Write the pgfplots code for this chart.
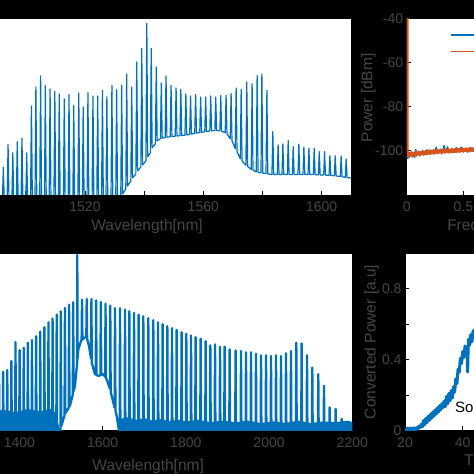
\documentclass[border=0pt]{standalone}
\usepackage{pgfplots}
\pgfplotsset{compat=1.18}
\usepackage{fontspec}
\setmainfont{Liberation Sans}
\definecolor{c1}{RGB}{0,114,189}
\definecolor{c2}{RGB}{217,83,25}
\definecolor{labgray}{RGB}{70,70,70}
\newcommand{\tfont}{\fontsize{14}{16}\selectfont}
\newcommand{\lfont}{\fontsize{15.5}{18}\selectfont}
\pgfplotsset{
  panel/.style={
    scale only axis,
    anchor=south west,
    axis background/.style={fill=white},
    axis line style={black, line width=0.8pt},
    tick align=inside,
    xtick pos=left, ytick pos=left,
    major tick length=4pt,
    tick style={black, line width=0.8pt},
    ticklabel style={font=\tfont, text=labgray},
    xticklabel style={yshift=-3.5pt},
    xlabel style={font=\lfont, text=labgray},
    ylabel style={font=\lfont, text=labgray},
    /pgf/number format/assume math mode=true,
    every axis plot/.append style={line join=round},
  },
}
\begin{document}
\begin{tikzpicture}
\useasboundingbox (0,0) rectangle (474pt,474pt);
\clip (0,0) rectangle (474pt,474pt);
\fill[black] (0,0) rectangle (474pt,474pt);

% ---------------- top left ----------------
\begin{axis}[panel, at={(-57pt,279pt)}, width=408.2pt, height=176.7pt,
  xmin=1472, xmax=1610, ymin=-88, ymax=0,
  xtick={1480,1500,...,1600}, xticklabels={1480,,1520,,1560,,1600},
  ytick=\empty, xlabel={Wavelength[nm]}]
\addplot[c1, line width=1.2pt] coordinates {
(1472,-90)
(1492.1,-90)(1492.4,-74.2)(1492.7,-90)
(1493.7,-90)(1494.0,-62.9)(1494.3,-90)
(1495.3,-90)(1495.6,-67.0)(1495.9,-90)
(1496.8,-90)(1497.1,-61.5)(1497.4,-90)
(1498.4,-90)(1498.7,-59.7)(1499.0,-90)
(1500.0,-90)(1500.3,-67.0)(1500.6,-90)
(1501.6,-90)(1501.9,-43.7)(1502.2,-90)
(1503.1,-90)(1503.4,-34.2)(1503.7,-90)
(1504.7,-90)(1505.0,-28.7)(1505.3,-90)
(1506.3,-90)(1506.6,-33.5)(1506.9,-90)
(1507.9,-90)(1508.2,-35.2)(1508.5,-90)
(1509.5,-90)(1509.8,-36.4)(1510.1,-90)
(1511.0,-90)(1511.3,-37.7)(1511.6,-90)
(1512.7,-90)(1513.0,-40.2)(1513.3,-90)
(1514.3,-90)(1514.6,-37.9)(1514.9,-90)
(1515.9,-90)(1516.2,-43.4)(1516.5,-90)
(1517.6,-90)(1517.9,-37.2)(1518.2,-90)
(1519.1,-90)(1519.4,-44.2)(1519.7,-90)
(1520.7,-90)(1521.0,-37.0)(1521.3,-90)
(1522.4,-90)(1522.7,-38.7)(1523.0,-90)
(1524.0,-90)(1524.3,-38.7)(1524.6,-90)
(1525.6,-90)(1525.9,-35.9)(1526.2,-90)
(1527.1,-90)(1527.4,-39.0)(1527.7,-90)
(1528.8,-90)(1529.1,-33.4)(1529.4,-90)
(1530.4,-90)(1530.7,-35.5)(1531.0,-89.5)
(1532.1,-88.5)(1532.4,-33.4)(1532.7,-87.5)
(1533.8,-85)(1534.1,-27.7)(1534.4,-83.5)
(1535.5,-81)(1535.8,-34.2)(1536.1,-79.5)
(1537.2,-77.5)(1537.5,-21.7)(1537.8,-76)
(1538.9,-74)(1539.2,-15.0)(1539.5,-73)
(1540.6,-71)(1540.9,-2.5)(1541.2,-69)
(1542.1,-67)(1542.4,-15.0)(1542.7,-64.5)
(1543.8,-62.5)(1544.1,-24.2)(1544.4,-61)
(1545.5,-60)(1545.8,-32.2)(1546.1,-59.7)
(1547.1,-59.4)(1547.4,-28.7)(1547.7,-59.2)
(1548.8,-59)(1549.1,-33.4)(1549.4,-58.9)
(1550.5,-58.7)(1550.8,-34.7)(1551.1,-58.6)
(1552.1,-58.5)(1552.4,-35.4)(1552.7,-58.4)
(1553.8,-58.2)(1554.1,-37.7)(1554.4,-58.1)
(1555.4,-57.8)(1555.7,-38.7)(1556.0,-57.7)
(1557.1,-57.3)(1557.4,-38.0)(1557.7,-57.2)
(1558.8,-56.9)(1559.1,-39.2)(1559.4,-56.8)
(1560.5,-56.5)(1560.8,-39.2)(1561.1,-56.4)
(1562.2,-56.1)(1562.5,-38.7)(1562.8,-56.0)
(1563.9,-55.9)(1564.2,-39.2)(1564.5,-55.9)
(1565.6,-56.0)(1565.9,-38.4)(1566.2,-56.2)
(1567.4,-57)(1567.7,-38.4)(1568.0,-57.5)
(1569.1,-60)(1569.4,-37.4)(1569.7,-61)
(1570.8,-65)(1571.1,-34.7)(1571.4,-66.5)
(1572.5,-70)(1572.8,-35.4)(1573.1,-71)
(1574.4,-73.2)(1574.7,-31.7)(1575.0,-73.8)
(1576.2,-75.3)(1576.5,-32.5)(1576.8,-75.7)
(1577.9,-76.5)(1578.2,-28.4)(1578.5,-76.7)
(1579.5,-77)(1579.8,-27.7)(1580.1,-77.1)
(1581.2,-77.3)(1581.5,-35.9)(1581.8,-77.5)
(1583.2,-77.8)(1583.5,-56.4)(1583.8,-77.8)
(1585.0,-77.8)(1585.3,-63.0)(1585.6,-77.8)
(1586.6,-77.8)(1586.9,-62.5)(1587.2,-77.8)
(1588.4,-77.8)(1588.7,-60.9)(1589.0,-77.8)
(1590.1,-77.8)(1590.4,-63.9)(1590.7,-77.8)
(1592.0,-77.8)(1592.3,-62.7)(1592.6,-77.8)
(1593.7,-77.8)(1594.0,-64.2)(1594.3,-77.8)
(1595.4,-77.8)(1595.7,-64.7)(1596.0,-77.8)
(1597.2,-77.8)(1597.5,-64.7)(1597.8,-77.9)
(1598.9,-78)(1599.2,-66.4)(1599.5,-78)
(1600.7,-78)(1601.0,-66.4)(1601.3,-78.1)
(1602.5,-78.2)(1602.8,-68.4)(1603.1,-78.3)
(1604.3,-78.4)(1604.6,-68.4)(1604.9,-78.5)
(1606.3,-78.8)(1606.6,-68.7)(1606.9,-78.9)
(1608.0,-79.2)(1608.3,-70.0)(1608.6,-79.3)
(1610,-79.6)
};
\end{axis}

% ---------------- top right ----------------
\begin{axis}[panel, at={(406.7pt,279pt)}, width=198.3pt, height=176.7pt,
  xmin=0, xmax=1.75, ymin=-120, ymax=-40,
  xtick={0,0.5,1,1.5}, xticklabels={0,0.5,1,1.5},
  ytick={-100,-80,-60,-40}, yticklabels={-100,-80,-60,-40},
  xlabel={Frequency [GHz]}, ylabel={Power [dBm]},
  ylabel style={at={(axis description cs:-0.1937,0.55)}, anchor=center},
  legend style={at={(axis description cs:0.218,0.951)}, anchor=north west, draw=none, fill=none,
    inner sep=0pt, font=\lfont, cells={anchor=west}},
  legend image code/.code={\draw[#1, line width=1.5pt] (0pt,0pt) -- (40pt,0pt);}]
\addplot[c1, line width=1.3pt] coordinates {
(0,-102)(0.01,-103.5)(0.02,-101)(0.03,-102.5)(0.04,-100.5)(0.05,-102.8)(0.06,-101.2)(0.07,-103)(0.08,-99.3)(0.09,-102)(0.1,-100.8)(0.12,-102.2)(0.14,-100)(0.16,-101.8)(0.18,-99.5)(0.2,-101.5)(0.22,-99.8)(0.24,-101.3)(0.26,-98.4)(0.27,-100.5)(0.29,-99.5)(0.31,-101.4)(0.33,-97.6)(0.34,-100.6)(0.36,-98.2)(0.38,-100.9)(0.4,-99.2)(0.42,-100.8)(0.44,-98.6)(0.46,-100.5)(0.48,-98.3)(0.5,-100.4)(0.52,-98.9)(0.54,-100.6)(0.56,-98.5)(0.58,-100.2)(0.6,-98.6)(0.62,-100)
};
\addlegendentry{Input}
\addplot[c2, line width=1.8pt] coordinates {
(0.008,-35)(0.008,-100)(0.012,-102.5)(0.018,-100.8)(0.024,-102.8)(0.03,-101)(0.036,-102.2)(0.044,-100.5)(0.052,-102.6)(0.06,-100.9)(0.068,-102)(0.076,-100.3)(0.084,-102.3)(0.092,-100.6)(0.1,-101.8)(0.108,-100.2)(0.116,-102.1)(0.124,-100.5)(0.132,-101.6)(0.14,-99.9)(0.148,-101.9)(0.156,-100.3)(0.164,-101.4)(0.172,-99.8)(0.18,-101.7)(0.188,-100.1)(0.196,-101.3)(0.204,-99.6)(0.212,-101.5)(0.22,-100)(0.228,-101.2)(0.236,-99.5)(0.244,-101.4)(0.252,-99.8)(0.26,-101)(0.268,-99.4)(0.276,-101.2)(0.284,-99.7)(0.292,-100.9)(0.3,-99.3)(0.308,-101.1)(0.316,-99.6)(0.324,-100.8)(0.332,-99.2)(0.34,-101)(0.348,-99.5)(0.356,-100.7)(0.364,-99.1)(0.372,-100.9)(0.38,-99.4)(0.388,-100.6)(0.396,-99)(0.404,-100.8)(0.412,-99.3)(0.42,-100.5)(0.428,-98.9)(0.436,-100.7)(0.444,-99.2)(0.452,-100.4)(0.46,-98.9)(0.468,-100.6)(0.476,-99.1)(0.484,-100.3)(0.492,-98.8)(0.5,-100.5)(0.508,-99)(0.516,-100.2)(0.524,-98.8)(0.532,-100.4)(0.54,-98.9)(0.548,-100.1)(0.556,-98.7)(0.564,-100.3)(0.572,-98.8)(0.58,-100)(0.588,-98.7)(0.596,-100.2)(0.604,-98.8)(0.62,-100)
};
\addlegendentry{Output}
\end{axis}

% ---------------- bottom left ----------------
\begin{axis}[panel, at={(-56pt,43.5pt)}, width=408.3pt, height=177.2pt,
  xmin=1219, xmax=2200, ymin=-107, ymax=0,
  xtick={1400,1600,...,2200}, xticklabels={1400,1600,1800,2000,2200},
  ytick=\empty, xlabel={Wavelength[nm]}, xlabel style={yshift=-4.5pt}]
\addplot[draw=none, fill=c1] coordinates {
(1219,-110)(1219,-95)(1300,-94)(1330,-96)(1360,-94.5)(1390,-96)(1420,-94)(1450,-95.5)(1476,-94)(1485,-96)(1491,-100)(1497.6,-107)(1497.6,-110)};
\addplot[draw=none, fill=c1] coordinates {
(1639.4,-110)(1639.4,-107)(1642,-100)(1660,-99)(1680,-100.5)(1700,-99.5)(1720,-101)(1740,-100)(1760,-101.5)(1780,-100.5)(1800,-101.5)(1830,-100.5)(1860,-102)(1890,-101)(1920,-102)(1950,-101)(1980,-102.5)(2010,-101.5)(2040,-102.5)(2070,-101)(2100,-102.5)(2130,-101.5)(2160,-102)(2190,-101)(2200,-102)(2200,-110)};
\addplot[c1, line width=2.3pt] coordinates {
(1219,-110)
(1300.7,-110)(1301.7,-75)(1302.7,-110)
(1310.6,-110)(1311.6,-74.5)(1312.6,-110)
(1320.5,-110)(1321.5,-74)(1322.5,-110)
(1330.4,-110)(1331.4,-73.5)(1332.4,-110)
(1340.3,-110)(1341.3,-72.5)(1342.3,-110)
(1350.2,-110)(1351.2,-72)(1352.2,-110)
(1360.1,-110)(1361.1,-71.5)(1362.1,-110)
(1370.0,-110)(1371.0,-70.5)(1372.0,-110)
(1379.9,-110)(1380.9,-65)(1381.9,-110)
(1389.8,-110)(1390.8,-53.6)(1391.8,-110)
(1399.7,-110)(1400.7,-58.5)(1401.7,-110)
(1409.6,-110)(1410.6,-57)(1411.6,-110)
(1419.5,-110)(1420.5,-54)(1421.5,-110)
(1429.4,-110)(1430.4,-52.4)(1431.4,-110)
(1439.3,-110)(1440.3,-50)(1441.3,-110)
(1449.2,-110)(1450.2,-47.2)(1451.2,-110)
(1459.1,-110)(1460.1,-44.6)(1461.1,-110)
(1469.0,-110)(1470.0,-41.6)(1471.0,-110)
(1478.9,-110)(1479.9,-39.4)(1480.9,-110)
(1488.8,-110)(1489.8,-37)(1490.8,-110)
(1496,-110)(1497.6,-107)
(1498.7,-106.1)(1499.7,-35)(1500.7,-104.4)
(1508.6,-97.9)(1509.6,-33)(1510.6,-96.6)
(1515,-94.8)
(1518.5,-93.3)(1519.5,-31)(1520.5,-92.5)
(1521.7,-92)
(1528.4,-85.3)(1529.4,-29.6)(1530.4,-83.3)
(1533.7,-80)(1536,-73.7)
(1538.8,-66.5)(1539.3,-1)(1539.8,-63.7)
(1541.7,-58)(1548.1,-53)
(1549.6,-52.6)(1550.6,-28)(1551.6,-52.1)
(1556.2,-51)
(1560.9,-50.5)(1561.9,-27.6)(1562.9,-51.5)
(1567.4,-56)
(1572.2,-63.5)(1573.2,-27.6)(1574.2,-66.4)
(1581.8,-73)
(1583.5,-73.2)(1584.5,-28.4)(1585.5,-73.5)
(1589.8,-74)
(1594.8,-73.6)(1595.8,-29.4)(1596.8,-73.4)
(1601.8,-73)
(1606.1,-74.6)(1607.1,-30.4)(1608.1,-75.4)
(1609.8,-76)(1613.8,-79)
(1617.5,-81.7)(1618.5,-31.6)(1619.5,-83.7)
(1625.8,-90)
(1628.9,-93.1)(1629.9,-33)(1630.9,-95.1)
(1633.8,-98)(1639.4,-107)(1640.4,-110)
(1640.9,-110)(1641.9,-33.2)(1642.9,-110)
(1652.9,-110)(1653.9,-34)(1654.9,-110)
(1663.3,-110)(1664.3,-35)(1665.3,-110)
(1674.6,-110)(1675.6,-36)(1676.6,-110)
(1685.6,-110)(1686.6,-37)(1687.6,-110)
(1696.9,-110)(1697.9,-38)(1698.9,-110)
(1708.9,-110)(1709.9,-39.2)(1710.9,-110)
(1720.9,-110)(1721.9,-40.4)(1722.9,-110)
(1732.2,-110)(1733.2,-41.6)(1734.2,-110)
(1743.3,-110)(1744.3,-42.8)(1745.3,-110)
(1754.6,-110)(1755.6,-44)(1756.6,-110)
(1765.8,-110)(1766.8,-45.2)(1767.8,-110)
(1776.9,-110)(1777.9,-46.2)(1778.9,-110)
(1788.9,-110)(1789.9,-47.6)(1790.9,-110)
(1800.2,-110)(1801.2,-48.6)(1802.2,-110)
(1811.5,-110)(1812.5,-49.6)(1813.5,-110)
(1822.5,-110)(1823.5,-50.6)(1824.5,-110)
(1834.6,-110)(1835.6,-51.6)(1836.6,-110)
(1846.6,-110)(1847.6,-53)(1848.6,-110)
(1857.9,-110)(1858.9,-55.6)(1859.9,-110)
(1869.2,-110)(1870.2,-55)(1871.2,-110)
(1881.2,-110)(1882.2,-56.4)(1883.2,-110)
(1892.2,-110)(1893.2,-56.4)(1894.2,-110)
(1904.3,-110)(1905.3,-58)(1906.3,-110)
(1918.6,-110)(1919.6,-58.6)(1920.6,-110)
(1931.6,-110)(1932.6,-59)(1933.6,-110)
(1943.6,-110)(1944.6,-59.8)(1945.6,-110)
(1955.6,-110)(1956.6,-59.8)(1957.6,-110)
(1967.6,-110)(1968.6,-60.6)(1969.6,-110)
(1979.7,-110)(1980.7,-61.6)(1981.7,-110)
(1991.7,-110)(1992.7,-61.6)(1993.7,-110)
(2003.7,-110)(2004.7,-62)(2005.7,-110)
(2015.7,-110)(2016.7,-61.6)(2017.7,-110)
(2027.7,-110)(2028.7,-62)(2029.7,-110)
(2039.7,-110)(2040.7,-60.4)(2041.7,-110)
(2051.7,-110)(2052.7,-59)(2053.7,-110)
(2064.5,-110)(2065.5,-54)(2066.5,-110)
(2077.2,-110)(2078.2,-54.4)(2079.2,-110)
(2090.2,-110)(2091.2,-61.6)(2092.2,-110)
(2102.9,-110)(2103.9,-69)(2104.9,-110)
(2117.3,-110)(2118.3,-73)(2119.3,-110)
(2131.0,-110)(2132.0,-80)(2133.0,-110)
(2144.5,-110)(2145.5,-93)(2146.5,-110)
(2158.9,-110)(2159.9,-94)(2160.9,-110)
(2173.3,-110)(2174.3,-100)(2175.3,-110)
(2187.0,-110)(2188.0,-102.4)(2189.0,-110)
(2200,-110)
};
\end{axis}

% ---------------- bottom right ----------------
\begin{axis}[panel, at={(405pt,43.5pt)}, width=173.1pt, height=177.2pt,
  xmin=20, xmax=80, ymin=0, ymax=1,
  xtick={20,40,60,80}, xticklabels={20,40,60,80},
  ytick={0,0.2,0.4,0.6,0.8}, yticklabels={0,,0.4,,0.8},
  xlabel={Time [s]}, ylabel={Converted Power [a.u]},
  ylabel style={at={(axis description cs:-0.1924,0.5)}, anchor=center}]
\addplot[c1, line width=3pt] coordinates {
(20.0,0.014)(20.4,0.002)(20.8,0.014)(21.2,0.002)(21.6,0.014)(22.0,0.002)(22.4,0.014)(22.8,0.003)(23.2,0.015)(23.6,0.003)(24.0,0.016)(24.4,0.008)(24.8,0.024)(25.2,0.017)(25.6,0.035)(26.0,0.02)(26.4,0.056)(26.8,0.032)(27.2,0.068)(27.6,0.044)(28.0,0.08)(28.4,0.056)(28.8,0.092)(29.2,0.068)(29.6,0.104)(30.0,0.08)(30.4,0.116)(30.8,0.092)(31.2,0.128)(31.6,0.104)(32.0,0.14)(32.4,0.116)(32.8,0.152)(33.2,0.129)(33.6,0.167)(34.0,0.135)(34.4,0.193)(34.8,0.151)(35.2,0.209)(35.6,0.167)(36.0,0.225)(36.4,0.183)(36.8,0.247)(37.2,0.217)(37.6,0.291)(38.0,0.265)(38.4,0.347)(38.8,0.329)(39.2,0.407)(39.6,0.379)(40.0,0.445)(40.4,0.411)(40.8,0.477)(41.2,0.439)(41.5,0.47)(41.7,0.33)(41.9,0.47)(42.0,0.515)(42.4,0.481)(42.8,0.541)(43.2,0.501)(43.6,0.563)(44.0,0.525)(44.4,0.583)(44.8,0.541)(45.2,0.599)
};
\node[anchor=west, inner sep=0pt, font=\fontsize{15}{17}\selectfont, text=black] at (axis cs:37.3,0.131) {Soliton};
\end{axis}
\end{tikzpicture}
\end{document}
